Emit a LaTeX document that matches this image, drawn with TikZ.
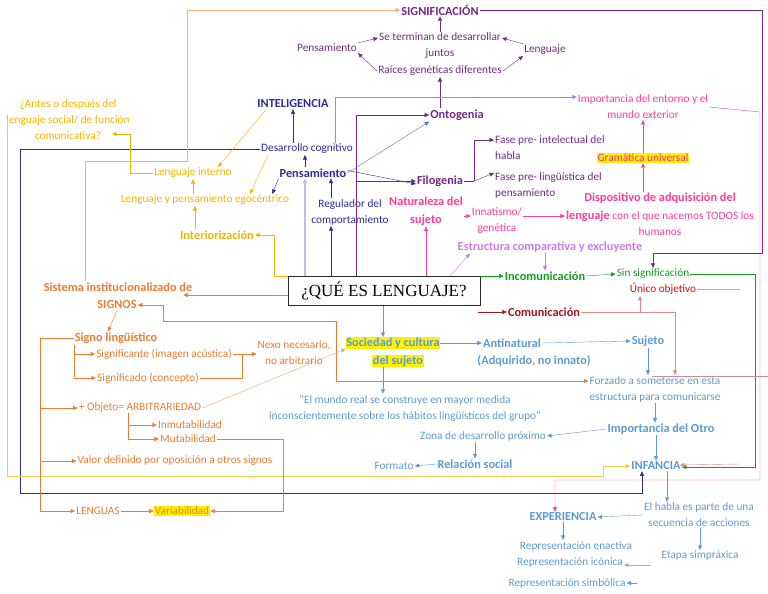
\documentclass[tikz,border=0pt]{standalone}
\usepackage{fontspec}
\setmainfont{Carlito}
\newfontfamily\qserif{Liberation Serif}
\usetikzlibrary{arrows.meta}
\definecolor{cP}{HTML}{742A85}
\definecolor{cN}{HTML}{2B2A9B}
\definecolor{cY}{HTML}{F5B400}
\definecolor{cO}{HTML}{F07B2E}
\definecolor{cK}{HTML}{FF3C96}
\definecolor{cL}{HTML}{CC7BEA}
\definecolor{cG}{HTML}{10A020}
\definecolor{cR}{HTML}{A0141E}
\definecolor{cRR}{HTML}{D01010}
\definecolor{cB}{HTML}{5B9BD5}
\definecolor{cLav}{HTML}{8A8FE0}
\tikzset{
 t/.style={inner sep=1pt, font=\fontsize{11.3}{16}\selectfont, align=center},
 b/.style={inner sep=1pt, font=\fontsize{12.3}{18}\selectfont\bfseries, align=center},
 a/.style={-{Triangle[length=4.5pt,width=4pt]}},
 hl/.style={fill=yellow},
}
\begin{document}
\begin{tikzpicture}[x=1pt,y=-1pt]
\useasboundingbox (0,0) rectangle (768,594);
% ---- nodes
\node[b,text=cP] (sig) at (440,10) {SIGNIFICACIÓN};
\node[t,text=cP] (se) at (440,46) {Se terminan de desarrollar\\juntos};
\node[t,text=cP] (pensP) at (327,48) {Pensamiento};
\node[t,text=cP] (lengP) at (545,50) {Lenguaje};
\node[t,text=cP] (rai) at (440,71) {Raíces genéticas diferentes};
\node[b,text=cN] (intel) at (293,104) {INTELIGENCIA};
\node[t,text=cK] (imp) at (643,107) {Importancia del entorno y el\\mundo exterior};
\node[b,text=cP] (onto) at (457,115) {Ontogenia};
\node[t,text=cY] (antes) at (68,120) {¿Antes o después del\\lenguaje social/ de función\\comunicativa?};
\node[t,text=cN] (des) at (307,149) {Desarrollo cognitivo};
\node[t,text=cP,align=left,anchor=west] (f1) at (494,148) {Fase pre- intelectual del\\habla};
\node[t,text=cK!80!red,hl] (gram) at (643,158) {Gramática universal};
\node[t,text=cY] (lint) at (193,173) {Lenguaje interno};
\node[b,text=cN] (pensN) at (313,173) {Pensamiento};
\node[b,text=cP] (filo) at (440,181) {Filogenia};
\node[t,text=cP,align=left,anchor=west] (f2) at (494,185) {Fase pre- lingüística del\\pensamiento};
\node[t,text=cY] (ego) at (205,200) {Lenguaje y pensamiento egocéntrico};
\node[b,text=cK] (dispo) at (660,198) {Dispositivo de adquisición del};
\node[b,text=cK] (nat) at (426,211) {Naturaleza del\\sujeto};
\node[t,text=cN] (reg) at (350,212) {Regulador del\\comportamiento};
\node[t,text=cK] (innat) at (497,221) {Innatismo/\\genética};
\node[t,text=cK] (lengD) at (660,216) {{\bfseries\fontsize{12.3}{14}\selectfont lenguaje} con el que nacemos TODOS los};
\node[t,text=cK] (hum) at (660,232) {humanos};
\node[b,text=cY!95!orange] (inter) at (217,235) {Interiorización};
\node[b,text=cL] (est) at (550,247) {Estructura comparativa y excluyente};
\node[draw=black!85,line width=0.8pt,fill=white,minimum width=192,minimum height=29,inner sep=0pt,font=\qserif\fontsize{17}{19}\selectfont] (q) at (384,291) {¿QUÉ ES LENGUAJE?};
\node[b,text=cG] (incom) at (545,276) {Incomunicación};
\node[t,text=cG] (sin) at (653,274) {Sin significación};
\node[t,text=cRR] (unico) at (663,289) {Único objetivo};
\node[b,text=cO] (sist) at (118,287) {Sistema institucionalizado de};
\node[b,text=cO] (signos) at (117,305) {SIGNOS};
\node[b,text=cR] (com) at (544,312) {Comunicación};
\node[b,text=cO] (signo) at (116,338) {Signo lingüístico};
\node[b,text=cB,hl,inner sep=0.5pt] (soc1) at (393,343) {Sociedad y cultura};
\node[b,text=cB,hl,inner sep=0.5pt] (soc2) at (398,361) {del sujeto};
\node[b,text=cB] (anti) at (512,343) {Antinatural};
\node[b,text=cB] (adq) at (534,361) {(Adquirido, no innato)};
\node[b,text=cB] (suj) at (648,341) {Sujeto};
\node[t,text=cO] (sgte) at (164,354) {Significante (imagen acústica)};
\node[t,text=cO] (nexo) at (294,353) {Nexo necesario,\\no arbitrario};
\node[t,text=cO] (sgdo) at (148,378) {Significado (concepto)};
\node[t,text=cB] (forz) at (655,389) {Forzado a someterse en esta\\estructura para comunicarse};
\node[t,text=cB] (mundo) at (405,408) {“El mundo real se construye en mayor medida\\inconscientemente sobre los hábitos lingüísticos del grupo”};
\node[t,text=cO] (obj) at (140,408) {+ Objeto= ARBITRARIEDAD};
\node[t,text=cO] (inm) at (190,425) {Inmutabilidad};
\node[t,text=cO] (mut) at (188,439) {Mutabilidad};
\node[b,text=cB] (otro) at (661,429) {Importancia del Otro};
\node[t,text=cB] (zona) at (483,436) {Zona de desarrollo próximo};
\node[t,text=cO] (valor) at (175,461) {Valor definido por oposición a otros signos};
\node[t,text=cB] (formato) at (394,466) {Formato};
\node[b,text=cB] (rel) at (475,464) {Relación social};
\node[b,text=cB] (inf) at (656,466) {INFANCIA};
\node[t,text=cO] (lenguas) at (98,511) {LENGUAS};
\node[t,text=cO,hl] (var) at (182,511) {Variabilidad};
\node[b,text=cB] (exp) at (563,517) {EXPERIENCIA};
\node[t,text=cB] (habla) at (699,515) {El habla es parte de una\\secuencia de acciones};
\node[t,text=cB] (enact) at (576,546) {Representación enactiva};
\node[t,text=cB] (icon) at (570,563) {Representación icónica};
\node[t,text=cB] (etapa) at (700,556) {Etapa simpráxica};
\node[t,text=cB] (simb) at (567,583) {Representación simbólica};
% ---- purple
\draw[a,cP] (se.north) -- (sig.south);
\draw[a,cP] (pensP.north east) -- ([yshift=8pt]se.west);
\draw[a,cP] (lengP.north west) -- ([yshift=8pt]se.east);
\draw[a,cP] (rai.east) -- (lengP.south west);
\draw[a,cP] (rai.west) -- (pensP.south east);
\draw[a,cP] (onto.north -| rai.south) -- (rai.south);
\draw[a,cP] ([xshift=-28]q.north) |- (onto.west);
\draw[a,cP] ([xshift=-28]q.north |- filo.west) -- (filo.west);
\draw[cP] (filo.east) -- ++(10,0) coordinate (fb);
\draw[a,cP] (fb) |- ([yshift=8pt]f1.west);
\draw[a,cP] (fb) -- ([yshift=8pt]f2.west |- fb);
\draw[a,cP] (sig.east) -- (762,10) -- (762,253) -| (sin.north);
% ---- navy
\draw[a,cN] ([xshift=-8]pensN.north) -- ([xshift=-2]des.south);
\draw[a,cN] (des.north -| intel.south) -- (intel.south);
\draw[a,cN] ([xshift=18]pensN.south |- reg.north) -- ([xshift=18]pensN.south);
\draw[a,cN] ([xshift=-53]q.north) -- ([xshift=-53]q.north |- reg.south);
\draw[a,cN!30,line width=2pt] ([xshift=-79]q.north) -- ([xshift=-79]q.north |- pensN.south);
\draw[a,cN] (pensN.south west) -- ([xshift=-18]ego.north east);
\draw[a,cB!70!cN] (pensN.east) -- (onto.south west);
\draw[a,cN] ([yshift=-3pt]pensN.north east) -- ([yshift=-3pt]filo.west);
\draw[a,cLav] ([xshift=28]des.north) |- ([yshift=10pt]imp.west);
\draw[a,cN] (des.west) -- (20,149) -- (20,493) -| ([xshift=-14]inf.south);
% ---- yellow
\draw[a,cY] ([xshift=10]intel.south west) -- ([xshift=25]lint.north);
\draw[a,cY] ([xshift=8]des.south west) -- ([xshift=45]ego.north);
\draw[a,cY] (lint.west) -- (130,173) -- (130,134) -- (112,134);
\draw[a,cY] (ego.north -| lint.south) -- (lint.south);
\draw[a,cY] ([xshift=-22]inter.north) -- ([xshift=-22]inter.north |- ego.south);
\draw[a,cY] (q.north west) -- ++(-13,0) |- (inter.east);
\draw[a,cY!70] (antes.west) ++(2,0) -- ++(0,356) -- ++(596,0) |- (inf.west);
% ---- orange
\draw[a,cO] ([yshift=-4pt]q.west) -- ([xshift=-10pt,yshift=-8pt]sist.east);
\draw[a,cO!60] ([xshift=-33]sist.north) -- ++(0,-120) -- ++(102,0) |- (sig.west);
\draw[{Triangle[length=4.5pt,width=4pt]}-{Triangle[length=4.5pt,width=4pt]},cO] (signos.east) -- ++(25,0) -- ++(0,16) -- (336,321) -- (336,381) -- ([yshift=8pt]forz.west);
\draw[a,cO] (signos.south) -- ([xshift=-8]signo.north);
\draw[a,cO] (signo.west) -- (40,338) -- (40,511) -- (lenguas.west);
\draw[a,cO] (40,408) -- (obj.west);
\draw[a,cO] (40,461) -- (valor.west);
\draw[cO] ([xshift=-42]signo.south) -- ++(0,32);
\draw[a,cO] ([xshift=-42]signo.south |- sgte.west) -- (sgte.west);
\draw[a,cO] ([xshift=-42]signo.south |- sgdo.west) -- (sgdo.west);
\draw[a,cO] (sgte.east) -- (nexo.west |- sgte.east);
\draw[cO] (sgdo.east) -- (242,378) -- (242,354);
\draw[a,cO!70] (obj.east) -- (soc1.south west);
\draw[cO] (128,413) -- (128,439);
\draw[a,cO] (128,425) -- (inm.west);
\draw[a,cO] (128,439) -- (mut.west);
\draw[a,cO] (mut.east) -- (283,439) -- (283,511) -- (var.east);
\draw[a,cO] (lenguas.east) -- (var.west);
% ---- pink
\draw[a,cK] (q.north -| nat.south) -- (nat.south);
\draw[a,cK] ([yshift=-5pt]nat.east) -- ([yshift=-5pt]nat.east -| innat.west);
\draw[a,cK] ([yshift=5pt]innat.east) -- (lengD.west);
\draw[a,cK] (dispo.north -| gram.south) -- (gram.south);
\draw[a,cK] (gram.north) -- (gram.north |- imp.south);
\draw[a,cK] (imp.east) -- (760,112) -- (760,480) -- (555,480) -- ([xshift=-8pt]exp.north);
% ---- lilac, green, red
\draw[a,cL] ([xshift=66]q.north) -- ([xshift=-80]est.south);
\draw[a,cL] (est.south -| incom.north) -- (incom.north);
\draw[a,cG] (q.east |- incom.west) -- (incom.west);
\draw[a,cG] (incom.east) -- (sin.west);
\draw[a,cG] (sin.east) -- (755,274) -- (755,467) -- ([yshift=-1pt]inf.east);
\draw[cRR!40] (unico.east) -- (740,289);
\draw[a,cRR!50] (740,464) -- ([yshift=1pt,xshift=-2pt]inf.east);
\draw[cR!50] (652,376) -- (768,376);
\draw[a,cR] (478,312) -- (com.west);
\draw[a,cRR!50] (com.east) -| ([xshift=20]forz.north);
\draw[a,cRR!50] ([xshift=-23]unico.south |- com.east) -- ([xshift=-23]unico.south);
% ---- blue
\draw[a,cB] ([xshift=-1]q.south) -- ([xshift=-1]q.south |- soc1.north);
\draw[a,cB] ([xshift=-1]q.south |- soc2.south) -- ([xshift=-1]q.south |- mundo.north);
\draw[a,cB] (soc1.east) -- (anti.west);
\draw[a,cB] (anti.east) -- (suj.west);
\draw[a,cB] (suj.south) -- (suj.south |- forz.north);
\draw[a,cB] (forz.south) -- (forz.south |- otro.north);
\draw[a,cB] (otro.west) -- (zona.east);
\draw[a,cB] (zona.south -| rel.north) -- (rel.north);
\draw[a,cB] (rel.west) -- (formato.east);
\draw[a,cB] (otro.south -| inf.north) -- (inf.north);
\draw[a,cB] ([xshift=11]inf.south) -- ([xshift=11]inf.south |- habla.north);
\draw[a,cB] (habla.west) -- (exp.east);
\draw[a,cB] (exp.south) -- (exp.south |- enact.north);
\draw[a,cB] (habla.south -| etapa.north) -- (etapa.north);
\draw[a,cB!70] (icon.east) ++(27,2) -- ([yshift=-2pt]icon.east);
\draw[a,cB] (simb.east) ++(10,0) -- (simb.east);
\end{tikzpicture}
\end{document}
